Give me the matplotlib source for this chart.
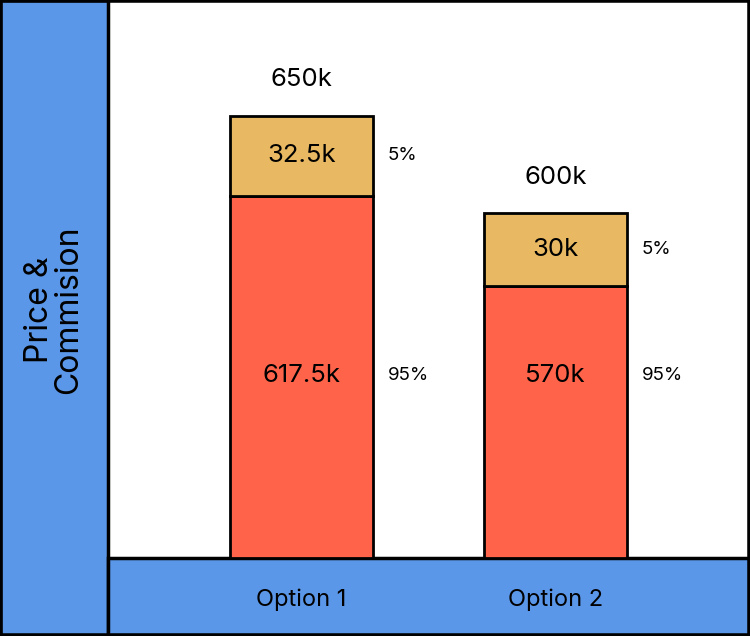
import numpy as np
import matplotlib.pyplot as plt
from matplotlib.patches import Rectangle

plt.rcParams['font.family'] = ['Inter', 'DejaVu Sans']

options = ["Option 1", "Option 2"]
price = [617.5, 570]        # k
commission = [32.5, 30]     # k
totals = [p + c for p, c in zip(price, commission)]

blue = "#5B97E8"
red = "#FF644B"
orange = "#E8B962"

# the original is a sketch, not to scale: piecewise scale that reproduces its look
knot_val = [0, 570, 600, 617.5, 650, 900]
knot_px = [0, 272, 345, 362, 442, 558]

def fwd(v):
    return np.interp(v, knot_val, knot_px)

def inv(d):
    return np.interp(d, knot_px, knot_val)

W, H = 750, 636
fig = plt.figure(figsize=(W / 100, H / 100), dpi=100)

# side and bottom panels
fig.patches.append(Rectangle((0, 0), 108 / W, 1, transform=fig.transFigure,
                             facecolor=blue, edgecolor="black", lw=2.5, zorder=-2))
fig.patches.append(Rectangle((108 / W, 0), 1 - 108 / W, 78 / H, transform=fig.transFigure,
                             facecolor=blue, edgecolor="black", lw=2.5, zorder=-2))
fig.patches.append(Rectangle((0, 0), 1, 1, transform=fig.transFigure, fill=False,
                             edgecolor="black", lw=4, zorder=5))

ax = fig.add_axes([108 / W, 78 / H, 1 - 108 / W, 1 - 78 / H])
ax.set_facecolor("none")
ax.set_yscale("function", functions=(fwd, inv))
ax.set_ylim(0, 900)
ax.set_xlim(-193.5 / 254, (642 - 193.5) / 254)
x = np.arange(len(options))

ax.bar(x, price, width=0.563, color=red, edgecolor="black", lw=2)
ax.bar(x, commission, bottom=price, width=0.563, color=orange, edgecolor="black", lw=2)

for i in range(len(options)):
    ax.annotate(f"{totals[i]:g}k", (x[i], totals[i]), xytext=(0, 36),
                textcoords="offset pixels", ha="center", va="center", fontsize=18.5)
    mid = inv((fwd(price[i]) + fwd(totals[i])) / 2)
    ax.text(x[i], mid, f"{commission[i]:g}k", ha="center", va="center", fontsize=18.5)
    ax.annotate(f"{commission[i] / totals[i] * 100:.0f}%", (x[i] + 0.563 / 2, mid),
                xytext=(15, 0), textcoords="offset pixels", ha="left", va="center", fontsize=13.5)
    yr = inv(558 - 375)
    ax.text(x[i], yr, f"{price[i]:g}k", ha="center", va="center", fontsize=18.5)
    ax.annotate(f"{price[i] / totals[i] * 100:.0f}%", (x[i] + 0.563 / 2, yr),
                xytext=(15, 0), textcoords="offset pixels", ha="left", va="center", fontsize=13.5)

ax.set_xticks(x)
ax.set_xticklabels(options, fontsize=17)
ax.tick_params(axis="x", length=0, pad=22)
ax.set_yticks([])
ax.minorticks_off()
for s in ax.spines.values():
    s.set_visible(False)

fig.text(54 / W, 1 - 310 / H, "Price &\nCommision", rotation=90, ha="center", va="center",
         fontsize=23, linespacing=0.95)

fig.savefig("out.png", dpi=100)
